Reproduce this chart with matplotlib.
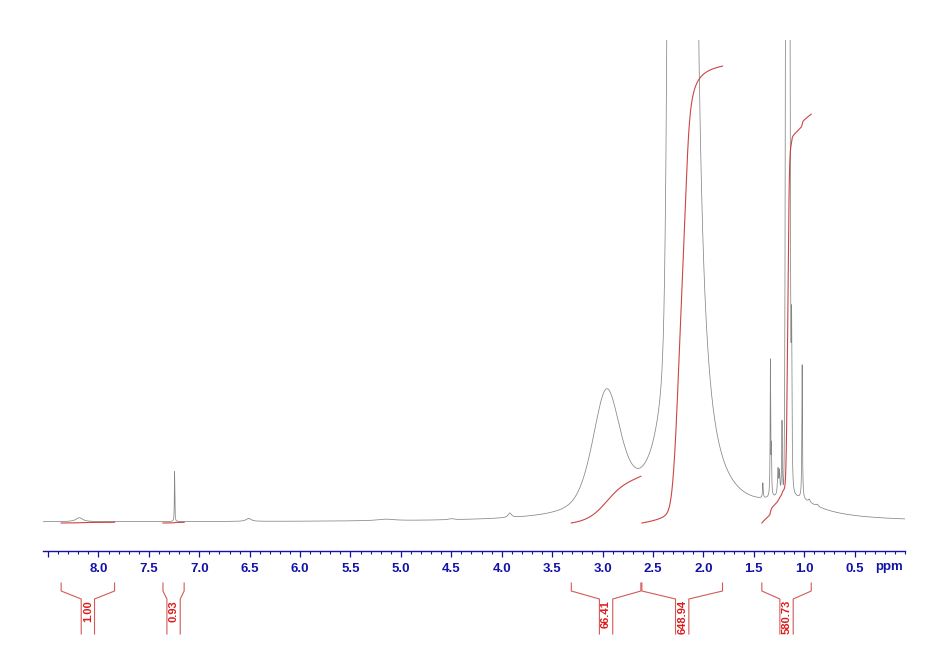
import numpy as np
import matplotlib.pyplot as plt
from matplotlib.ticker import MultipleLocator

# Lorentzian lines: shift (ppm), height, half width (ppm)
peak_ppm = [8.19, 7.245, 6.51, 5.15, 4.50, 3.92, 2.96, 2.17,
            1.41, 1.335, 1.325, 1.26, 1.245, 1.22, 1.125, 1.12, 1.02, 0.95, 0.87]
peak_height = [4.0, 50.0, 3.0, 1.5, 1.0, 4.5, 60.0, 6530.0,
               15.0, 135.0, 45.0, 26.0, 22.0, 74.0, 170.0, 18.0, 134.0, 3.0, 2.0]
peak_width = [0.04, 0.0025, 0.03, 0.10, 0.03, 0.02, 0.165, 0.035,
              0.004, 0.003, 0.003, 0.006, 0.005, 0.004, 0.005, 0.30, 0.0035, 0.01, 0.01]

# gaussian lines: shift (ppm), height, sigma (ppm)
gauss_ppm = [2.96, 2.25, 1.163]
gauss_height = [60.0, 6350.0, 3000.0]
gauss_sigma = [0.14, 0.045, 0.012]

# integral regions and values
int_start = [8.37, 7.36, 3.31, 2.61, 1.42]
int_end = [7.84, 7.15, 2.62, 1.81, 0.93]
int_value = [1.00, 0.93, 66.41, 648.94, 580.73]
int_scale = 0.704

tick_ppm = [8.5, 8.0, 7.5, 7.0, 6.5, 6.0, 5.5, 5.0, 4.5, 4.0, 3.5, 3.0, 2.5, 2.0, 1.5, 1.0, 0.5]
tick_labels = ['', '8.0', '7.5', '7.0', '6.5', '6.0', '5.5', '5.0', '4.5', '4.0',
               '3.5', '3.0', '2.5', '2.0', '1.5', '1.0', '0.5']

blue = '#1212aa'
red = '#c83030'

# build the spectrum
ppm = np.linspace(8.55, 0.0, 60000)
spec = np.zeros_like(ppm)
for c, h, w in zip(peak_ppm, peak_height, peak_width):
    spec += h * w**2 / ((ppm - c)**2 + w**2)
for c, h, s in zip(gauss_ppm, gauss_height, gauss_sigma):
    spec += h * np.exp(-(ppm - c)**2 / (2 * s**2))

fig = plt.figure(figsize=(9.36, 6.5), dpi=100)
ax = fig.add_axes([43/936, 1 - 551/650, 862/936, 511/650])

ax.plot(ppm, spec, color='#858585', lw=0.55)

# integral curves and brackets
for s, e, v in zip(int_start, int_end, int_value):
    m = (ppm <= s) & (ppm >= e)
    cs = np.cumsum(spec[m])
    cs = cs / cs[-1] * v * int_scale
    ax.plot(ppm[m], cs - 1, color=red, lw=0.8, alpha=0.9)

    c = (s + e) / 2
    dx = 0.066
    ax.plot([s, s, c + dx, c + dx], [-61, -69, -77, -112], color=red, lw=0.8,
            alpha=0.8, clip_on=False)
    ax.plot([e, e, c - dx, c - dx], [-61, -69, -77, -112], color=red, lw=0.8,
            alpha=0.8, clip_on=False)
    ax.text(c, -78, f'{v:.2f}', rotation=90, ha='center', va='top', color='#dd1c1c',
            fontsize=8, fontweight='bold', family='Liberation Sans')

ax.set_xlim(8.55, 0.0)
ax.set_ylim(-29, 482)

for side in ['top', 'left', 'right']:
    ax.spines[side].set_visible(False)
ax.spines['bottom'].set_color(blue)
ax.spines['bottom'].set_linewidth(1.0)
ax.set_yticks([])

ax.set_xticks(tick_ppm)
ax.set_xticklabels(tick_labels, fontsize=9.5, fontweight='bold',
                   family='Liberation Sans', color=blue)
ax.xaxis.set_minor_locator(MultipleLocator(0.1))
ax.tick_params(axis='x', which='major', direction='out', length=4.5, width=0.9,
               color=blue, pad=4)
ax.tick_params(axis='x', which='minor', direction='out', length=2.2, width=0.8,
               color=blue)

ax.text(0.965, -0.031, 'ppm', transform=ax.transAxes, ha='left', va='center',
        fontsize=9.5, fontweight='bold', family='Liberation Sans', color=blue)

fig.savefig('out.png', dpi=100)
